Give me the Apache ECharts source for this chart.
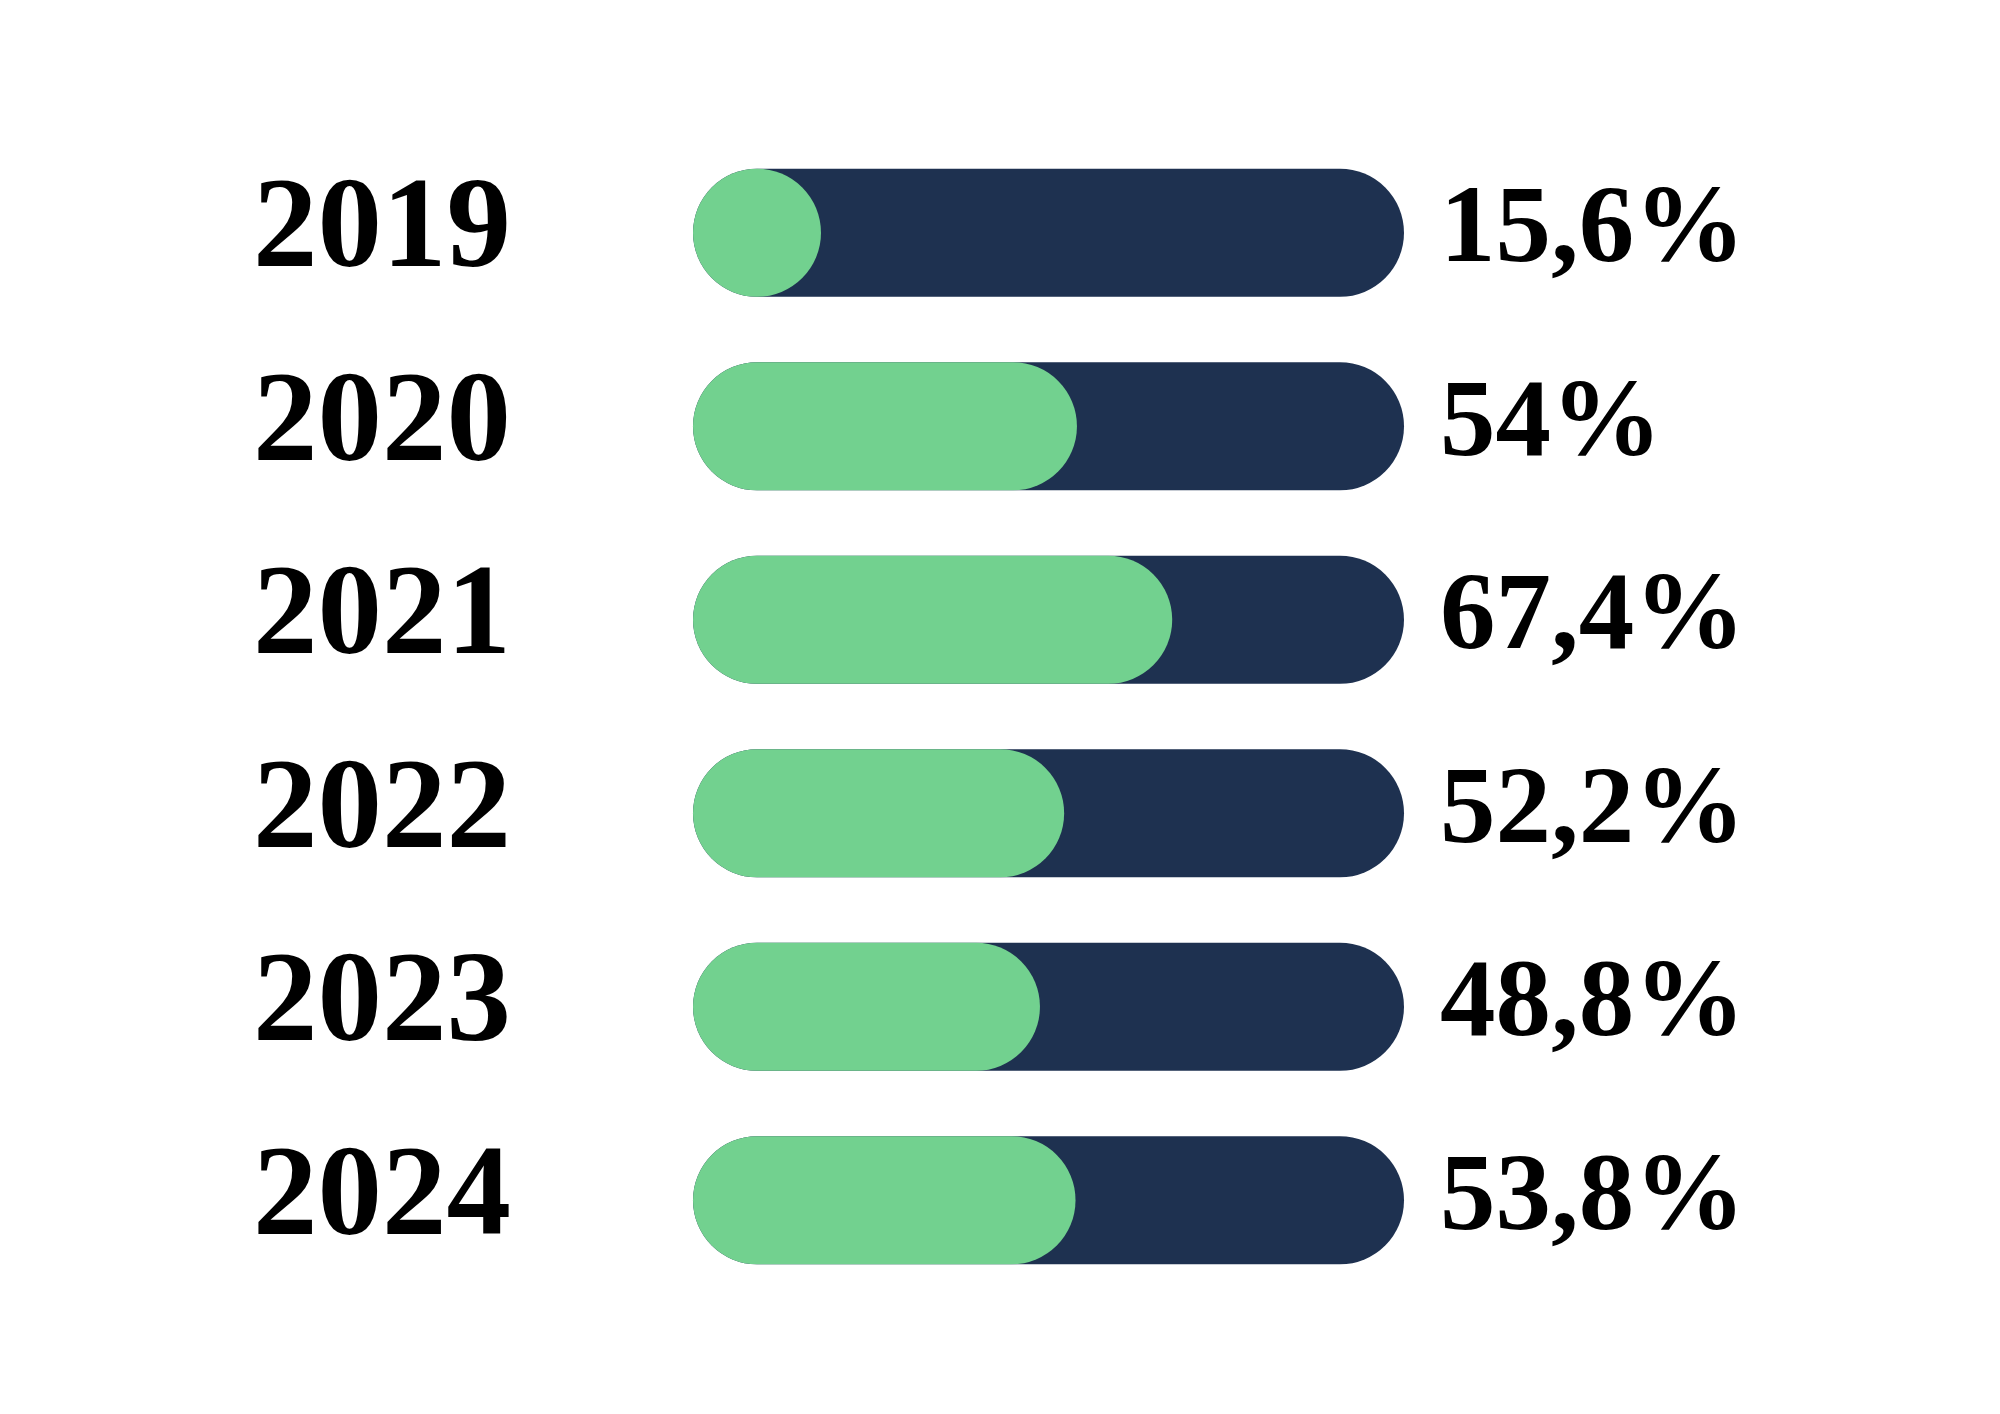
<!DOCTYPE html>
<html>
<head>
<meta charset="utf-8">
<script src="https://cdn.jsdelivr.net/npm/echarts@6/dist/echarts.min.js"></script>
<style>
  html, body { margin: 0; padding: 0; background: #ffffff; }
  #chart { width: 2000px; height: 1414px; }
</style>
</head>
<body>
<div id="chart"></div>
<script>
// data
var years = ['2019', '2020', '2021', '2022', '2023', '2024'];
var shares = [15.6, 54, 67.4, 52.2, 48.8, 53.8];
var fullTrack = [100, 100, 100, 100, 100, 100];

var navy = '#1e3150';
var green = '#72d18f';
var fontFam = '"Liberation Serif", serif';

function pctText(v) {
    // 15.6 -> "15,6%"
    return String(v).replace('.', ',') + '%';
}

var chart = echarts.init(document.getElementById('chart'));
var option = {
    backgroundColor: '#ffffff',
    animation: false,
    grid: {
        left: 693,
        width: 711,
        top: 136,
        height: 1161
    },
    xAxis: {
        type: 'value',
        min: 0,
        max: 100,
        show: false
    },
    yAxis: {
        type: 'category',
        data: years,
        inverse: true,
        axisLine: { show: false },
        axisTick: { show: false },
        splitLine: { show: false },
        axisLabel: {
            align: 'left',
            margin: 440,
            color: '#000000',
            fontFamily: fontFam,
            fontWeight: 'bold',
            fontSize: 129,
            padding: [14, 0, 0, 0]
        }
    },
    series: [
        {
            // dark track behind each year
            name: 'track',
            type: 'bar',
            data: fullTrack,
            barWidth: 128,
            barGap: '-100%',
            itemStyle: { color: navy, borderRadius: 64 },
            label: {
                show: true,
                position: 'right',
                distance: 36,
                color: '#000000',
                fontFamily: fontFam,
                fontWeight: 'bold',
                fontSize: 111,
                padding: [15, 0, 0, 0],
                formatter: function (p) {
                    return pctText(shares[p.dataIndex]);
                }
            },
            silent: true
        },
        {
            name: 'share',
            type: 'bar',
            data: shares,
            barWidth: 128,
            barGap: '-100%',
            barMinHeight: 128,
            itemStyle: { color: green, borderRadius: 64 },
            silent: true
        }
    ]
};
chart.setOption(option);
</script>
</body>
</html>
